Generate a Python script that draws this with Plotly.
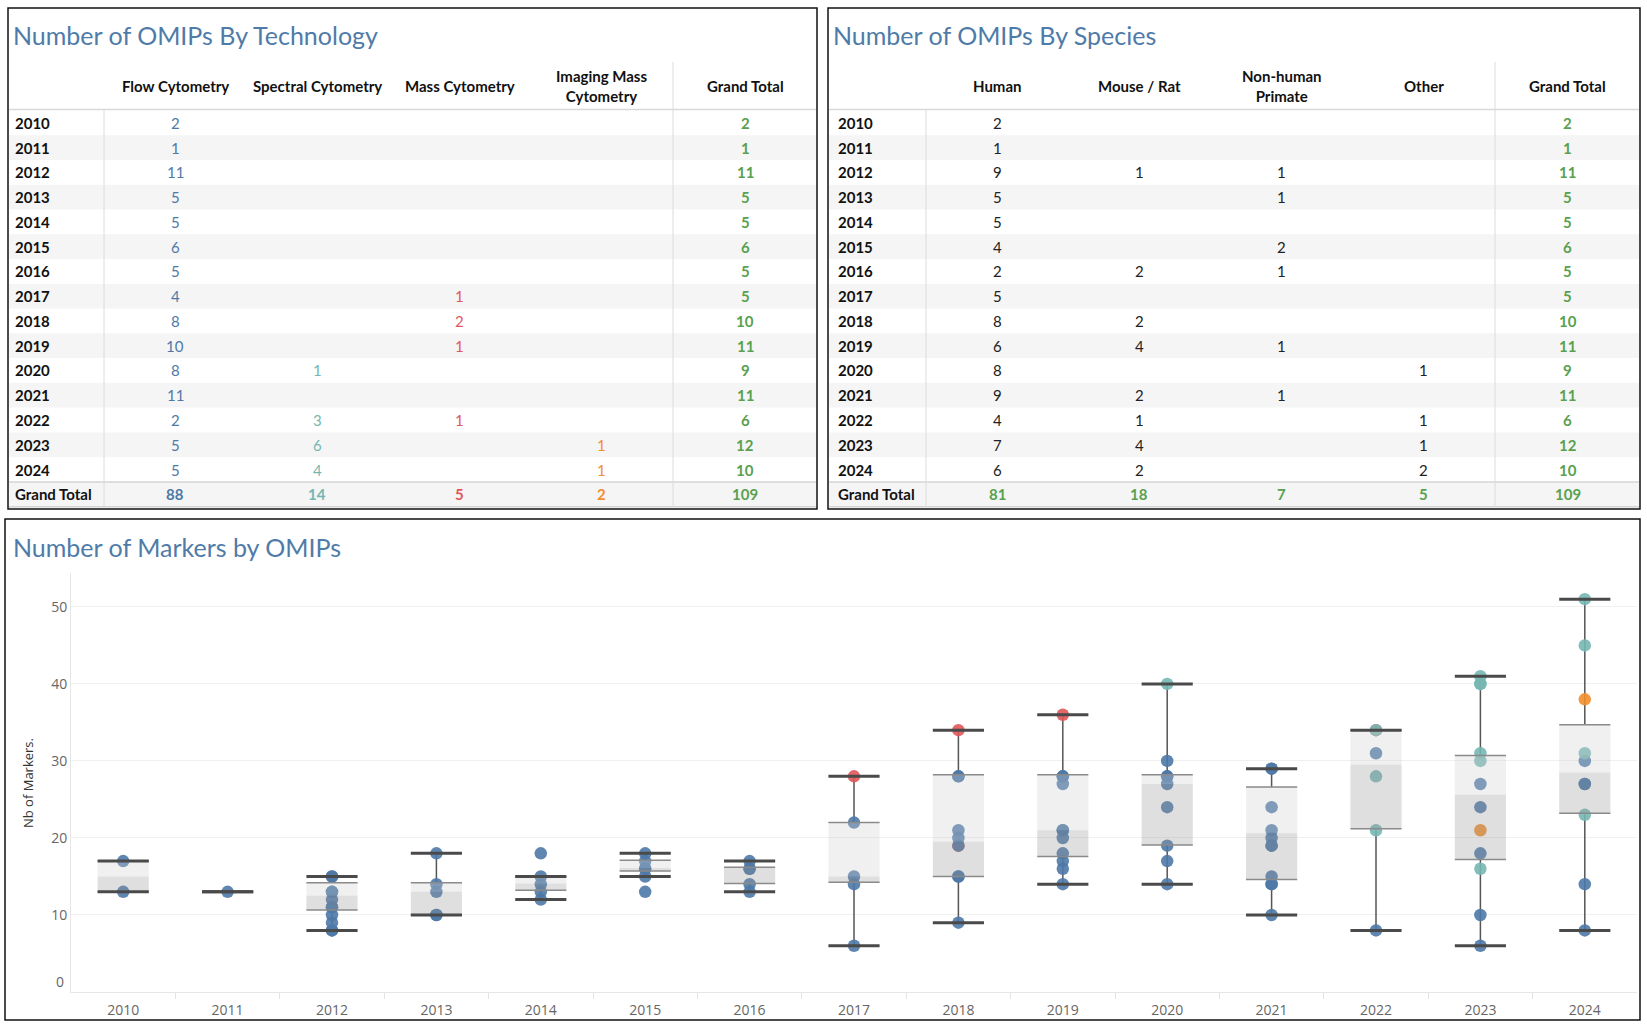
import plotly.graph_objects as go

W, H = 1647, 1026

# ---------------- data ----------------
years = list(range(2010, 2025))
year_labels = [str(y) for y in years]

tech_headers = ["Flow Cytometry", "Spectral Cytometry", "Mass Cytometry", "Imaging Mass<br>Cytometry"]
flow_cyt = [2, 1, 11, 5, 5, 6, 5, 4, 8, 10, 8, 11, 2, 5, 5]
spectral_cyt = [None, None, None, None, None, None, None, None, None, None, 1, None, 3, 6, 4]
mass_cyt = [None, None, None, None, None, None, None, 1, 2, 1, None, None, 1, None, None]
imaging_mass_cyt = [None, None, None, None, None, None, None, None, None, None, None, None, None, 1, 1]

species_headers = ["Human", "Mouse / Rat", "Non-human<br>Primate", "Other"]
human = [2, 1, 9, 5, 5, 4, 2, 5, 8, 6, 8, 9, 4, 7, 6]
mouse_rat = [None, None, 1, None, None, None, 2, None, 2, 4, None, 2, 1, 4, 2]
non_human_primate = [None, None, 1, 1, None, 2, 1, None, None, 1, None, 1, None, None, None]
other_species = [None, None, None, None, None, None, None, None, None, None, 1, None, 1, 1, 2]
species_grand_total = [2, 1, 11, 5, 5, 6, 5, 5, 10, 11, 9, 11, 6, 12, 10]

# number of markers per OMIP (year, value, technology)
pt_year = ([2010] * 2 + [2011] * 1 + [2012] * 11 + [2013] * 5 + [2014] * 5 + [2015] * 6 +
           [2016] * 5 + [2017] * 5 + [2018] * 10 + [2019] * 11 + [2020] * 9 + [2021] * 11 +
           [2022] * 6 + [2023] * 12 + [2024] * 10)
pt_value = [17, 13,
            13,
            15, 15, 13, 13, 12, 11, 11, 10, 9, 8, 8,
            18, 14, 13, 10, 10,
            18, 15, 14, 13, 12,
            18, 17, 16, 16, 15, 13,
            17, 16, 16, 14, 13,
            28, 22, 15, 14, 6,
            34, 28, 28, 21, 20, 19, 19, 15, 15, 9,
            36, 28, 28, 27, 21, 21, 20, 18, 17, 16, 14,
            40, 30, 28, 28, 27, 24, 19, 17, 14,
            29, 29, 24, 21, 20, 19, 19, 15, 14, 14, 10,
            34, 34, 31, 28, 21, 8,
            41, 40, 40, 31, 30, 27, 24, 21, 18, 16, 10, 6,
            51, 45, 38, 31, 30, 27, 27, 23, 14, 8]
pt_tech = (["F"] * 2 + ["F"] + ["F"] * 11 + ["F"] * 5 + ["F"] * 5 + ["F"] * 6 + ["F"] * 5 +
           ["M", "F", "F", "F", "F"] +
           ["M", "F", "F", "F", "F", "F", "M", "F", "F", "F"] +
           ["M"] + ["F"] * 10 +
           ["S"] + ["F"] * 8 +
           ["F"] * 11 +
           ["S", "M", "F", "S", "S", "F"] +
           ["S", "S", "S", "S", "S", "F", "F", "I", "F", "S", "F", "F"] +
           ["S", "S", "I", "S", "F", "F", "F", "S", "F", "F"])

# box-plot statistics
box_q1 = [13, 13, 10.65, 10, 13.2, 15.7, 14.1, 14.25, 15, 17.6, 19.1, 14.6, 21.2, 17.2, 23.2]
box_median = [15, 13, 12.5, 13, 14.1, 16.1, 16.2, 15, 19.5, 21, 27, 20.6, 29.5, 25.6, 28.5]
box_q3 = [17, 13, 14.2, 14.2, 15, 17.1, 16.2, 22, 28.2, 28.2, 28.2, 26.6, 34, 30.7, 34.7]
whisker_low = [13, 13, 8, 10, 12, 15, 13, 6, 9, 14, 14, 10, 8, 6, 8]
whisker_high = [17, 13, 15, 18, 15, 18, 17, 28, 34, 36, 40, 29, 34, 41, 51]

# ---------------- style ----------------
BLUE, TEAL, RED, ORANGE, GREEN = "#4e79a7", "#76b7b2", "#e15759", "#f28e2b", "#59a14f"
TITLE_C = "#4f7ba8"
TITLE_FONT = "Lato"
TABLE_FONT = "Lato"
AXIS_FONT = "Open Sans"
TABLE_SIZE = 15
TITLE_SIZE = 25

shapes, annotations = [], []


def px(x):
    return x / W


def py(y):
    return 1 - y / H


def rect(x0, y0, x1, y1, fill=None, line=None, lw=0, layer="below"):
    shapes.append(dict(type="rect", xref="paper", yref="paper", x0=px(x0), x1=px(x1),
                       y0=py(y1), y1=py(y0), fillcolor=fill or "rgba(0,0,0,0)",
                       line=dict(color=line or "rgba(0,0,0,0)", width=lw), layer=layer))


def hline(x0, x1, y, color, w=1):
    shapes.append(dict(type="line", xref="paper", yref="paper", x0=px(x0), x1=px(x1),
                       y0=py(y), y1=py(y), line=dict(color=color, width=w), layer="below"))


def vline(x, y0, y1, color, w=1):
    shapes.append(dict(type="line", xref="paper", yref="paper", x0=px(x), x1=px(x),
                       y0=py(y0), y1=py(y1), line=dict(color=color, width=w), layer="below"))


def text(x, y, s, size=TABLE_SIZE, color="#000", anchor="center", bold=False, family=TABLE_FONT, angle=0):
    annotations.append(dict(xref="paper", yref="paper", x=px(x), y=py(y),
                            text=f"<b>{s}</b>" if bold else s, showarrow=False,
                            xanchor=anchor, yanchor="middle", align="center", textangle=angle,
                            font=dict(size=size, color=color, family=family)))


PANEL_TOP, PANEL_BOTTOM = 8, 509
TITLE_Y = 35.5
HEADER_Y = 86.5
HEADER_LINE = 109.5
ROW0_TOP = 110.5
ROW_H = 24.76


def fmt(v):
    return "" if v is None else str(v)


def draw_table(left, right, title, headers, columns, col_colors, gt_values, gt_row_colors,
               label_x, sep1, sep2):
    n = len(years)
    cw = (sep2 - sep1) / len(headers)
    centers = [sep1 + (i + 0.5) * cw for i in range(len(headers))]
    gt_x = (sep2 + right) / 2
    bottom = ROW0_TOP + (n + 1) * ROW_H
    # stripes
    for i in range(n + 1):
        top = ROW0_TOP + i * ROW_H
        if i % 2 == 1 or i == n:
            rect(left + 1, top, right - 1, top + ROW_H, fill="#f5f5f5")
    hline(left + 1, right - 1, HEADER_LINE, "#d9d9d9", 1.5)
    hline(left + 1, right - 1, ROW0_TOP + n * ROW_H, "#d4d4d4", 1.5)
    hline(left + 1, right - 1, bottom, "#d4d4d4", 1.5)
    vline(sep1, HEADER_LINE, bottom, "#dcdcdc", 1)
    vline(sep2, 62, bottom, "#dcdcdc", 1)
    rect(left, PANEL_TOP, right, PANEL_BOTTOM, line="#111", lw=1.5, layer="above")
    text(left + 3, TITLE_Y, title, size=TITLE_SIZE, color=TITLE_C, anchor="left", family=TITLE_FONT)
    for h, cx in zip(headers, centers):
        text(cx, HEADER_Y, h, bold=True, color="#111")
    text(gt_x, HEADER_Y, "Grand Total", bold=True, color="#111")
    for i, yl in enumerate(year_labels):
        cy = ROW0_TOP + (i + 0.5) * ROW_H
        text(label_x, cy, yl, bold=True, anchor="left", color="#111")
        for col, cx, cc in zip(columns, centers, col_colors):
            if col[i] is not None:
                text(cx, cy, fmt(col[i]), color=cc)
        text(gt_x, cy, fmt(gt_values[i]), bold=True, color=GREEN)
    cy = ROW0_TOP + (n + 0.5) * ROW_H
    text(label_x, cy, "Grand Total", bold=True, anchor="left", color="#111")
    for col, cx, cc in zip(columns, centers, gt_row_colors):
        text(cx, cy, str(sum(v for v in col if v is not None)), bold=True, color=cc)
    text(gt_x, cy, str(sum(gt_values)), bold=True, color=GREEN)


tech_columns = [flow_cyt, spectral_cyt, mass_cyt, imaging_mass_cyt]
tech_total = [sum(c[i] for c in tech_columns if c[i] is not None) for i in range(len(years))]
draw_table(8, 817, "Number of OMIPs By Technology", tech_headers, tech_columns,
           [BLUE, TEAL, RED, ORANGE], tech_total, [BLUE, TEAL, RED, ORANGE],
           13, 104, 673)

species_columns = [human, mouse_rat, non_human_primate, other_species]
draw_table(828, 1640, "Number of OMIPs By Species", species_headers, species_columns,
           ["#222"] * 4, species_grand_total, [GREEN] * 4,
           836, 926, 1495)

# ---------------- box chart panel ----------------
rect(5, 519, 1640, 1020, line="#111", lw=1.5, layer="above")
text(11, 546.5, "Number of Markers by OMIPs", size=TITLE_SIZE, color=TITLE_C, anchor="left", family=TITLE_FONT)
text(28, 783, "Nb of Markers.", size=13, color="#333", family=AXIS_FONT, angle=-90)

HW = 0.245
fig = go.Figure()


def seg_lines(levels):
    xs, ys = [], []
    for i, yr in enumerate(years):
        xs += [yr - HW, yr + HW, None]
        ys += [levels[i], levels[i], None]
    return xs, ys


# whiskers
wx, wy = [], []
for i, yr in enumerate(years):
    if whisker_high[i] > box_q3[i]:
        wx += [yr, yr, None]
        wy += [box_q3[i], whisker_high[i], None]
    if whisker_low[i] < box_q1[i]:
        wx += [yr, yr, None]
        wy += [box_q1[i], whisker_low[i], None]
fig.add_trace(go.Scatter(x=wx, y=wy, mode="lines", line=dict(color="#555", width=1.5),
                         hoverinfo="skip", showlegend=False))

# points
tech_color = {"M": RED, "F": BLUE, "S": TEAL, "I": ORANGE}
for code in ["M", "F", "S", "I"]:
    xs = [y for y, t in zip(pt_year, pt_tech) if t == code]
    vs = [v for v, t in zip(pt_value, pt_tech) if t == code]
    fig.add_trace(go.Scatter(x=xs, y=vs, mode="markers",
                             marker=dict(size=12.5, color=tech_color[code], opacity=0.9,
                                         line=dict(width=0)),
                             showlegend=False))


# box fills (semi transparent over points)
def box_poly(lo, hi):
    xs, ys = [], []
    for i, yr in enumerate(years):
        if hi[i] - lo[i] <= 0:
            continue
        xs += [yr - HW, yr + HW, yr + HW, yr - HW, yr - HW, None]
        ys += [lo[i], lo[i], hi[i], hi[i], lo[i], None]
    return xs, ys


bx, by = box_poly(box_median, box_q3)
fig.add_trace(go.Scatter(x=bx, y=by, mode="lines", fill="toself",
                         fillcolor="rgba(205,205,205,0.3)", line=dict(width=0),
                         hoverinfo="skip", showlegend=False))
bx, by = box_poly(box_q1, box_median)
fig.add_trace(go.Scatter(x=bx, y=by, mode="lines", fill="toself",
                         fillcolor="rgba(150,150,150,0.3)", line=dict(width=0),
                         hoverinfo="skip", showlegend=False))

# quartile lines
qx, qy = seg_lines(box_q1)
qx2, qy2 = seg_lines(box_q3)
fig.add_trace(go.Scatter(x=qx + qx2, y=qy + qy2, mode="lines",
                         line=dict(color="#8a8a8a", width=1.5),
                         hoverinfo="skip", showlegend=False))
# whisker caps
cx1, cy1 = seg_lines(whisker_low)
cx2, cy2 = seg_lines(whisker_high)
fig.add_trace(go.Scatter(x=cx1 + cx2, y=cy1 + cy2, mode="lines",
                         line=dict(color="#4a4a4a", width=3),
                         hoverinfo="skip", showlegend=False))

# "0" label sits just above the baseline
annotations.append(dict(xref="paper", yref="y", x=px(66), y=0, yshift=11, text="0",
                        showarrow=False, xanchor="right", yanchor="middle",
                        font=dict(size=14, color="#666", family=AXIS_FONT)))

fig.update_layout(
    width=W, height=H, autosize=False,
    margin=dict(l=0, r=0, t=0, b=0),
    paper_bgcolor="white", plot_bgcolor="white",
    showlegend=False,
    shapes=shapes, annotations=annotations,
    xaxis=dict(domain=[px(71), px(1637)], range=[years[0] - 0.5, years[-1] + 0.5],
               tickvals=years, ticktext=year_labels, showgrid=False, zeroline=False,
               showline=True, linecolor="#e6e6e6", linewidth=1,
               ticks="outside", ticklen=5, tickcolor="rgba(0,0,0,0)",
               minor=dict(tickvals=[y + 0.5 for y in years[:-1]], ticks="outside",
                          ticklen=6, tickcolor="#e3e3e3", showgrid=False),
               tickfont=dict(size=14, color="#666", family=AXIS_FONT), fixedrange=True),
    yaxis=dict(domain=[py(992), py(573)], range=[0, 54.4],
               tickvals=[10, 20, 30, 40, 50], showgrid=True, gridcolor="#f0f0f0",
               gridwidth=1, zeroline=False, showline=True, linecolor="#e6e6e6",
               linewidth=1, ticks="", tickfont=dict(size=14, color="#666", family=AXIS_FONT),
               fixedrange=True),
)

fig.write_html("out.html")
